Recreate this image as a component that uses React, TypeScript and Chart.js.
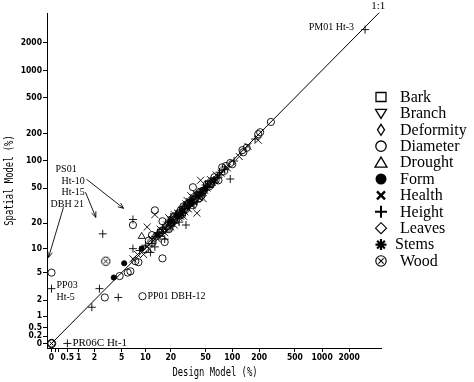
import React, { useEffect, useRef } from 'react';
import { Chart, registerables } from 'chart.js';

Chart.register(...registerables);

// axis transform: log10(v + 1)
const T = (v: number) => Math.log10(v + 1);

const X_TICKS = [0, 0.1, 0.2, 0.5, 1, 2, 5, 10, 20, 50, 100, 200, 500, 1000, 2000];
const X_TICK_LABELS = ['0', '', '', '0.5', '1', '2', '5', '10', '20', '50', '100', '200', '500', '1000', '2000'];
const Y_TICKS = [0, 0.2, 0.5, 1, 2, 5, 10, 20, 50, 100, 200, 500, 1000, 2000];
const Y_TICK_LABELS = ['0', '0.2', '0.5', '1', '2', '5', '10', '20', '50', '100', '200', '500', '1000', '2000'];

const X_TITLE = 'Design Model (%)';
const Y_TITLE = 'Spatial Model (%)';

const ONE_TO_ONE = [0, 4300];

// [design, spatial]
const bark: [number, number][] = [[31, 32], [57, 55]];
const branch: [number, number][] = [[24, 24], [41, 42]];
const deformity: [number, number][] = [[21, 20], [32, 34], [52, 51]];
const diameter: [number, number][] = [
  [0, 5], [0, 0], [2.9, 2.2], [9.2, 2.3], [4.7, 4.5], [6, 5], [6.5, 5.2], [7, 19], [13, 28], [16, 7.6],
  [17, 12], [16, 21], [36, 51], [70, 61], [77, 85], [95, 95], [100, 92], [130, 132], [133, 125], [145, 140],
  [205, 208], [195, 198], [270, 270], [7.5, 7], [8.2, 6.8], [10, 9.8], [11, 12.5], [13.5, 14], [15, 15.5],
  [18, 18.5], [20, 20.5], [22, 24], [25, 26], [27, 25], [30, 29], [34, 34], [38, 37], [43, 45], [48, 47],
  [52, 55], [58, 56], [63, 66], [12, 14.5], [42, 38], [16, 16.5], [19, 17], [23, 22], [26, 28], [28, 31],
  [31, 33], [36, 32], [40, 42], [45, 41], [55, 52], [65, 61], [85, 88],
];
const drought: [number, number][] = [[9, 14], [29, 31], [44, 43]];
const form: [number, number][] = [[3.9, 4.3], [5.4, 6.6], [9, 10], [14, 14.5], [20, 21], [27, 28], [35, 36], [50, 49], [62, 61]];
const health: [number, number][] = [
  [10.5, 18], [13, 25], [31, 36], [40, 26], [44, 61], [195, 170], [7, 7.5], [8, 8.5], [9.5, 8.5], [11, 10],
  [12, 13], [14, 13], [15, 17], [17, 15.5], [18, 19], [20, 18], [21, 22], [23, 21], [24, 26], [26, 24],
  [27, 28], [29, 27], [31, 30], [33, 35], [35, 32], [37, 39], [41, 40], [45, 46], [49, 47], [54, 56],
  [60, 58], [66, 70], [75, 73], [88, 84], [120, 112], [150, 145], [19, 23], [28, 24], [34, 41], [47, 38],
  [16, 14.5], [22, 25], [25, 23], [30, 33], [32, 29], [36, 36], [39, 43], [43, 39], [52, 50], [57, 62],
  [63, 60], [22, 19],
];
const height: [number, number][] = [
  [0, 3], [0.5, 0], [2.7, 15], [2.4, 3], [1.8, 1.5], [4.5, 2.2], [7, 22], [7, 10], [11.5, 9], [30, 19],
  [95, 63], [3000, 2800], [8.5, 9.5], [10, 11], [12, 11.5], [13, 14], [15, 14], [16, 17.5], [18, 17], [19, 21],
  [22, 20], [24, 23], [26, 27], [28, 26], [32, 31], [36, 34], [39, 41], [43, 41], [48, 50], [53, 51],
  [58, 60], [68, 65], [82, 80], [105, 100], [180, 175], [13, 10.5], [17, 13], [25, 20.5], [40, 35],
  [14, 15.5], [20, 19], [23, 25.5], [27, 24.5], [29, 31], [34, 37], [37, 33], [45, 44], [50, 54], [62, 58],
  [72, 75], [20, 23.5],
];
const leaves: [number, number][] = [[25, 25.5], [38, 38], [56, 58]];
const stems: [number, number][] = [[16, 16], [23, 24], [33, 33], [46, 45], [72, 70]];
const wood: [number, number][] = [[0, 0], [3, 7], [12, 12], [19, 18], [28, 29], [45, 44], [80, 78]];

// annotations: text, x value, y value, dx, dy, align, font size
const NOTES: [string, number, number, number, number, CanvasTextAlign, number][] = [
  ['1:1', 4300, 4300, -1, -7, 'center', 11],
  ['PM01 Ht-3', 3000, 2800, -11, -2, 'right', 10],
  ['PS01', 0, 81, 4, 0, 'left', 10],
  ['Ht-10', 0, 59.6, 10, 0, 'left', 10],
  ['Ht-15', 0, 44.8, 10, 0, 'left', 10],
  ['DBH 21', 0, 32.8, -1, 0, 'left', 10],
  ['PP03', 0, 3, 5, -3, 'left', 10],
  ['Ht-5', 0, 3, 5, 9, 'left', 10],
  ['PP01 DBH-12', 9.2, 2.3, 5, 0, 'left', 10],
  ['PR06C Ht-1', 0.5, 0, 5, 0, 'left', 11],
];
// arrows: from (x, y, dx), to (x, y, dx)
const ARROWS: [number, number, number, number, number, number][] = [
  [0, 62.7, 35, 5.3, 29.5, 0],
  [0, 44.8, 34, 2.1, 23.3, 0],
  [0, 30.4, 12, 0, 7.8, -3],
];

const toPts = (d: [number, number][]) => d.map(([x, y]) => ({ x: T(x), y: T(y) }));

function makeWoodCanvas() {
  const c = document.createElement('canvas');
  c.width = 11; c.height = 11;
  const g = c.getContext('2d')!;
  g.strokeStyle = '#000'; g.lineWidth = 1;
  g.beginPath(); g.arc(5.5, 5.5, 4.2, 0, Math.PI * 2); g.stroke();
  g.beginPath();
  g.moveTo(3.5, 3.5); g.lineTo(7.5, 7.5); g.moveTo(7.5, 3.5); g.lineTo(3.5, 7.5); g.stroke();
  return c;
}

function drawLegendSymbol(ctx: CanvasRenderingContext2D, kind: string, x: number, y: number) {
  ctx.save();
  ctx.strokeStyle = '#000'; ctx.fillStyle = '#000'; ctx.lineWidth = 1.3;
  ctx.beginPath();
  switch (kind) {
    case 'Bark': ctx.rect(x - 5, y - 4.5, 10, 9); ctx.stroke(); break;
    case 'Branch': ctx.moveTo(x - 5.5, y - 4); ctx.lineTo(x + 5.5, y - 4); ctx.lineTo(x, y + 5); ctx.closePath(); ctx.stroke(); break;
    case 'Deformity': ctx.moveTo(x, y - 5.5); ctx.lineTo(x + 3.5, y); ctx.lineTo(x, y + 5.5); ctx.lineTo(x - 3.5, y); ctx.closePath(); ctx.stroke(); break;
    case 'Diameter': ctx.arc(x, y, 5.2, 0, Math.PI * 2); ctx.stroke(); break;
    case 'Drought': ctx.moveTo(x, y - 5.5); ctx.lineTo(x + 6, y + 4.5); ctx.lineTo(x - 6, y + 4.5); ctx.closePath(); ctx.stroke(); break;
    case 'Form': ctx.arc(x, y, 5.5, 0, Math.PI * 2); ctx.fill(); break;
    case 'Health': ctx.lineWidth = 2.4; ctx.moveTo(x - 4, y - 4); ctx.lineTo(x + 4, y + 4); ctx.moveTo(x + 4, y - 4); ctx.lineTo(x - 4, y + 4); ctx.stroke(); break;
    case 'Height': ctx.lineWidth = 2; ctx.moveTo(x - 6, y); ctx.lineTo(x + 6, y); ctx.moveTo(x, y - 6); ctx.lineTo(x, y + 6); ctx.stroke(); break;
    case 'Leaves': ctx.lineWidth = 1.1; ctx.moveTo(x, y - 5.5); ctx.lineTo(x + 5.5, y); ctx.lineTo(x, y + 5.5); ctx.lineTo(x - 5.5, y); ctx.closePath(); ctx.stroke(); break;
    case 'Stems': {
      ctx.lineWidth = 2.2;
      for (let k = 0; k < 4; k++) {
        const a = (k * Math.PI) / 4;
        ctx.moveTo(x - Math.cos(a) * 5.5, y - Math.sin(a) * 5.5);
        ctx.lineTo(x + Math.cos(a) * 5.5, y + Math.sin(a) * 5.5);
      }
      ctx.stroke(); break;
    }
    case 'Wood':
      ctx.lineWidth = 1.1; ctx.arc(x, y, 5.2, 0, Math.PI * 2); ctx.stroke();
      ctx.beginPath(); ctx.moveTo(x - 2.6, y - 2.6); ctx.lineTo(x + 2.6, y + 2.6); ctx.moveTo(x + 2.6, y - 2.6); ctx.lineTo(x - 2.6, y + 2.6); ctx.stroke();
      break;
  }
  ctx.restore();
}

const decorPlugin = {
  id: 'decor',
  afterDraw(chart: any) {
    const ctx: CanvasRenderingContext2D = chart.ctx;
    const xs = chart.scales.x, ys = chart.scales.y;
    const px = (v: number) => xs.getPixelForValue(T(v));
    const py = (v: number) => ys.getPixelForValue(T(v));
    ctx.save();
    ctx.fillStyle = '#000'; ctx.strokeStyle = '#000';
    // axis titles (condensed mono)
    ctx.font = '13px "DejaVu Sans Mono"';
    ctx.textAlign = 'center'; ctx.textBaseline = 'middle';
    ctx.save();
    ctx.translate((xs.left + xs.right) / 2 + 1, chart.height - 9.5);
    ctx.scale(0.68, 1);
    ctx.fillText(X_TITLE, 0, 0);
    ctx.restore();
    ctx.save();
    ctx.translate(10, (ys.top + ys.bottom) / 2);
    ctx.rotate(-Math.PI / 2);
    ctx.scale(0.68, 1);
    ctx.fillText(Y_TITLE, 0, 0);
    ctx.restore();
    // annotations
    for (const [text, xv, yv, dx, dy, align, size] of NOTES) {
      ctx.font = `${size}px "Liberation Serif"`;
      ctx.textAlign = align; ctx.textBaseline = 'middle';
      ctx.fillText(text, px(xv) + dx, py(yv) + dy);
    }
    ctx.lineWidth = 0.9;
    for (const [x1, y1, d1, x2, y2, d2] of ARROWS) {
      const ax = px(x1) + d1, ay = py(y1), bx = px(x2) + d2, by = py(y2);
      const ang = Math.atan2(by - ay, bx - ax);
      ctx.beginPath();
      ctx.moveTo(ax, ay); ctx.lineTo(bx, by);
      ctx.moveTo(bx - 6 * Math.cos(ang - 0.4), by - 6 * Math.sin(ang - 0.4));
      ctx.lineTo(bx, by);
      ctx.lineTo(bx - 6 * Math.cos(ang + 0.4), by - 6 * Math.sin(ang + 0.4));
      ctx.stroke();
    }
    // legend
    const items = chart.data.datasets.filter((d: any) => d.label && d.label !== '1:1');
    ctx.font = '16px "Liberation Serif"';
    ctx.textAlign = 'left'; ctx.textBaseline = 'middle';
    items.forEach((d: any, i: number) => {
      const y = 97 + i * 16.4;
      drawLegendSymbol(ctx, d.label, 381, y);
      ctx.fillText(d.label, d.label === 'Stems' ? 395 : 400, y + 0.5);
    });
    ctx.restore();
  },
};

export default function App() {
  const ref = useRef<HTMLCanvasElement>(null);
  useEffect(() => {
    const woodImg = makeWoodCanvas();
    const base = { borderColor: '#000', backgroundColor: 'rgba(0,0,0,0)', pointBorderWidth: 0.9, showLine: false };
    const tickFont = { family: '"Liberation Sans Narrow", "DejaVu Sans Condensed", "Liberation Sans"', size: 8.5, weight: 'bold' as const };
    const chart = new Chart(ref.current!, {
      type: 'scatter',
      data: {
        datasets: [
          { label: '1:1', data: ONE_TO_ONE.map((v) => ({ x: T(v), y: T(v) })), showLine: true, borderColor: '#000', borderWidth: 1, pointRadius: 0, order: 100, clip: false } as any,
          { ...base, label: 'Bark', data: toPts(bark), pointStyle: 'rect', pointRadius: 4.5 },
          { ...base, label: 'Branch', data: toPts(branch), pointStyle: 'triangle', rotation: 180, pointRadius: 4 },
          { ...base, label: 'Deformity', data: toPts(deformity), pointStyle: 'rectRot', pointRadius: 4 },
          { ...base, label: 'Diameter', data: toPts(diameter), pointStyle: 'circle', pointRadius: 3.6 },
          { ...base, label: 'Drought', data: toPts(drought), pointStyle: 'triangle', pointRadius: 4 },
          { ...base, label: 'Form', data: toPts(form), pointStyle: 'circle', pointRadius: 2.6, backgroundColor: '#000' },
          { ...base, label: 'Health', data: toPts(health), pointStyle: 'crossRot', pointRadius: 5 },
          { ...base, label: 'Height', data: toPts(height), pointStyle: 'cross', pointRadius: 4 },
          { ...base, label: 'Leaves', data: toPts(leaves), pointStyle: 'rectRot', pointRadius: 4.5 },
          { ...base, label: 'Stems', data: toPts(stems), pointStyle: 'star', pointRadius: 4 },
          { ...base, label: 'Wood', data: toPts(wood), pointStyle: woodImg, pointRadius: 4 },
        ] as any,
      },
      options: {
        responsive: false,
        animation: false,
        layout: { padding: { top: 13, right: 93, left: 0, bottom: 0 } },
        plugins: { legend: { display: false }, tooltip: { enabled: false } },
        scales: {
          x: {
            type: 'linear', min: -0.05, max: 3.654,
            afterFit: (s: any) => { s.height = 34; },
            afterBuildTicks: (s: any) => { s.ticks = X_TICKS.map((v) => ({ value: T(v) })); },
            ticks: { autoSkip: false, maxRotation: 0, minRotation: 0, padding: 1, color: '#000', font: tickFont, callback: (_v: any, i: number) => X_TICK_LABELS[i] },
            grid: { drawOnChartArea: false, drawTicks: true, tickLength: 4, color: '#000', tickColor: '#000', lineWidth: 1 },
            border: { display: true, color: '#000', width: 1 },
          },
          y: {
            type: 'linear', min: -0.05, max: 3.63,
            afterFit: (s: any) => { s.width = 47; },
            afterBuildTicks: (s: any) => { s.ticks = Y_TICKS.map((v) => ({ value: T(v) })); },
            ticks: { autoSkip: false, padding: 1, color: '#000', font: tickFont, callback: (_v: any, i: number) => Y_TICK_LABELS[i] },
            grid: { drawOnChartArea: false, drawTicks: true, tickLength: 4, color: '#000', tickColor: '#000', lineWidth: 1 },
            border: { display: true, color: '#000', width: 1 },
          },
        },
      } as any,
      plugins: [decorPlugin],
    });
    return () => chart.destroy();
  }, []);
  return (
    <div style={{ position: 'fixed', left: 0, top: 0, width: 474, height: 382, background: '#fff' }}>
      <canvas ref={ref} width={474} height={382} />
    </div>
  );
}
